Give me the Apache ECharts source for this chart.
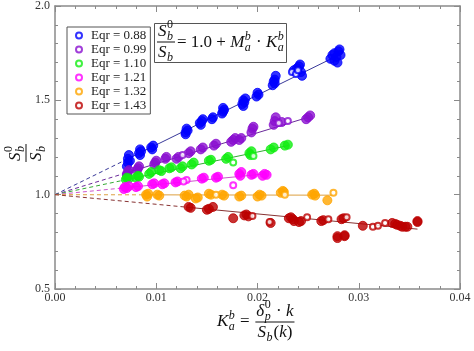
<!DOCTYPE html>
<html>
<head>
<meta charset="utf-8">
<script src="https://cdn.jsdelivr.net/npm/echarts@6/dist/echarts.min.js"></script>
<style>
  html, body { margin: 0; padding: 0; background: #fff; }
  #chart { width: 474px; height: 351px; }
</style>
</head>
<body>
<div id="chart"></div>
<script>
// legend names and colours
const names = ['Eqr = 0.88', 'Eqr = 0.99', 'Eqr = 1.10', 'Eqr = 1.21', 'Eqr = 1.32', 'Eqr = 1.43']
const colors = ['#0000ff', '#8a0fd0', '#11ee11', '#ff00ff', '#ffa500', '#bb0000']
const lineColors = ['#3a3a9a', '#6a2a9a', '#33aa33', '#cc55cc', '#dda040', '#883333']

// fitted slopes M_a^b and the K range covered by each set
const slopes = [26.4, 16.4, 11.3, 5.3, -0.1, -5.1]
const fitStart = [0.0071, 0.0071, 0.0070, 0.0068, 0.0090, 0.0132]
const fitEnd = [0.0282, 0.0252, 0.0230, 0.0209, 0.0275, 0.0358]

// filled points
const pts088 = [
    [0.0071, 1.15], [0.0072, 1.17], [0.0072, 1.19], [0.0073, 1.21], [0.0074, 1.18],
    [0.0083, 1.22], [0.0084, 1.24], [0.0085, 1.23], [0.0084, 1.21],
    [0.0095, 1.25], [0.0097, 1.26], [0.0096, 1.24],
    [0.0129, 1.33], [0.0130, 1.35], [0.0131, 1.34], [0.0129, 1.32],
    [0.0143, 1.38], [0.0145, 1.39], [0.0146, 1.40], [0.0144, 1.37],
    [0.0155, 1.40], [0.0156, 1.41],
    [0.0165, 1.43], [0.0166, 1.44], [0.0167, 1.45], [0.0166, 1.46],
    [0.0185, 1.48], [0.0186, 1.50], [0.0187, 1.49], [0.0186, 1.47], [0.0188, 1.51],
    [0.0199, 1.52], [0.0200, 1.54], [0.0201, 1.53],
    [0.0215, 1.58], [0.0216, 1.60], [0.0217, 1.61], [0.0218, 1.63], [0.0217, 1.59],
    [0.0236, 1.66], [0.0239, 1.67], [0.0241, 1.68], [0.0243, 1.65], [0.0244, 1.63], [0.0242, 1.69],
    [0.0272, 1.72], [0.0274, 1.74], [0.0276, 1.75], [0.0278, 1.73], [0.0280, 1.76],
    [0.0282, 1.74], [0.0276, 1.71], [0.0281, 1.77], [0.0279, 1.70]
]
const pts099 = [
    [0.0071, 1.11], [0.0072, 1.12], [0.0073, 1.13], [0.0071, 1.10],
    [0.0081, 1.13], [0.0082, 1.14], [0.0083, 1.15],
    [0.0098, 1.16], [0.0099, 1.17], [0.0100, 1.18],
    [0.0109, 1.19], [0.0110, 1.20],
    [0.0120, 1.19], [0.0122, 1.20],
    [0.0132, 1.22], [0.0134, 1.23],
    [0.0144, 1.24], [0.0146, 1.25],
    [0.0157, 1.26], [0.0159, 1.27],
    [0.0174, 1.28], [0.0176, 1.29], [0.0178, 1.30], [0.0182, 1.29], [0.0184, 1.30],
    [0.0194, 1.33], [0.0195, 1.35], [0.0196, 1.36],
    [0.0216, 1.37], [0.0217, 1.39], [0.0218, 1.41], [0.0224, 1.385],
    [0.0248, 1.40], [0.0250, 1.41], [0.0252, 1.42]
]
const pts110 = [
    [0.0070, 1.08], [0.0071, 1.09], [0.0073, 1.085],
    [0.0080, 1.09], [0.0082, 1.10], [0.0083, 1.095],
    [0.0093, 1.11], [0.0095, 1.12],
    [0.0103, 1.13], [0.0105, 1.125],
    [0.0113, 1.14], [0.0115, 1.145],
    [0.0124, 1.14], [0.0126, 1.15],
    [0.0135, 1.16], [0.0137, 1.17],
    [0.0152, 1.18], [0.0154, 1.185],
    [0.0169, 1.19], [0.0171, 1.20],
    [0.0192, 1.22], [0.0194, 1.23], [0.0193, 1.21],
    [0.0213, 1.24], [0.0216, 1.25],
    [0.0227, 1.26], [0.0230, 1.265]
]
const pts121 = [
    [0.0068, 1.03], [0.0069, 1.04], [0.0071, 1.035], [0.0073, 1.045],
    [0.0080, 1.04], [0.0082, 1.045],
    [0.0096, 1.055], [0.0098, 1.06],
    [0.0106, 1.055], [0.0108, 1.06],
    [0.0119, 1.065], [0.0121, 1.07],
    [0.0145, 1.085], [0.0147, 1.09],
    [0.0159, 1.09], [0.0161, 1.095],
    [0.0182, 1.11], [0.0184, 1.12], [0.0183, 1.10],
    [0.0194, 1.105], [0.0196, 1.11],
    [0.0205, 1.10], [0.0207, 1.11], [0.0209, 1.105]
]
const pts132 = [
    [0.0090, 1.0], [0.0092, 1.005], [0.0091, 0.99],
    [0.0101, 1.0], [0.0103, 0.995],
    [0.0128, 0.995], [0.0130, 0.99], [0.0132, 1.0], [0.0139, 0.98], [0.0141, 0.985],
    [0.0152, 1.005], [0.0154, 1.0],
    [0.0165, 1.0], [0.0167, 0.995],
    [0.0182, 0.99], [0.0184, 0.995],
    [0.0200, 0.99], [0.0202, 1.0], [0.0204, 0.995],
    [0.0223, 1.01], [0.0225, 1.02], [0.0226, 1.015],
    [0.0254, 1.0], [0.0256, 1.005], [0.0257, 0.995],
    [0.0269, 0.97]
]
const pts143 = [
    [0.0132, 0.935], [0.0134, 0.93],
    [0.0150, 0.92], [0.0152, 0.925], [0.0156, 0.935],
    [0.0176, 0.875],
    [0.0187, 0.89], [0.0189, 0.895], [0.0191, 0.885],
    [0.0213, 0.85],
    [0.0231, 0.875], [0.0233, 0.88], [0.0235, 0.87], [0.0236, 0.86],
    [0.0241, 0.855], [0.0243, 0.86],
    [0.0263, 0.86], [0.0265, 0.865],
    [0.0279, 0.78], [0.0279, 0.77], [0.0286, 0.78], [0.0286, 0.785],
    [0.0283, 0.87], [0.0285, 0.875],
    [0.0304, 0.835],
    [0.0333, 0.85], [0.0336, 0.845], [0.0338, 0.84], [0.0341, 0.835], [0.0343, 0.83],
    [0.0346, 0.83], [0.0348, 0.83],
    [0.0358, 0.86], [0.0358, 0.855]
]

// hollow points
const open088 = [[0.0234, 1.65], [0.0238, 1.64], [0.0240, 1.66]]
const open099 = [[0.0230, 1.39], [0.0126, 1.21], [0.0221, 1.38]]
const open110 = [[0.0176, 1.17], [0.0196, 1.205]]
const open121 = [[0.0130, 1.078], [0.0176, 1.05], [0.0127, 1.07]]
const open132 = [[0.0275, 1.01], [0.0159, 1.0], [0.0227, 1.0]]
const open143 = [[0.0195, 0.887], [0.0212, 0.855], [0.0249, 0.88], [0.0288, 0.88],
    [0.0314, 0.83], [0.0319, 0.835], [0.0326, 0.85], [0.0270, 0.87]]

const filled = [pts088, pts099, pts110, pts121, pts132, pts143]
const hollow = [open088, open099, open110, open121, open132, open143]

const xTicks = [0, 0.01, 0.02, 0.03, 0.04]
const yTicks = [0.5, 1.0, 1.5, 2.0]

const serif = '"Liberation Serif", "DejaVu Serif", serif'

// --- small helpers for the math labels ---
const measureCtx = document.createElement('canvas').getContext('2d')
const textWidth = (t, font) => { measureCtx.font = font; return measureCtx.measureText(t).width }

function mathRun(tokens, x, y, fs) {
    let cx = x
    const els = []
    tokens.forEach(tok => {
        const f = (tok.it ? 'italic ' : '') + fs + 'px ' + serif
        els.push({ type: 'text', x: cx, y: y, style: { text: tok.t, font: f, fill: '#111', verticalAlign: 'middle' } })
        cx += textWidth(tok.t, f)
        if (tok.sup || tok.sub) {
            const sfs = Math.round(fs * 0.68)
            let ws = 0
            if (tok.sup) {
                const sf = (/\d/.test(tok.sup) ? '' : 'italic ') + sfs + 'px ' + serif
                els.push({ type: 'text', x: cx + 0.5, y: y - fs * 0.38, style: { text: tok.sup, font: sf, fill: '#111', verticalAlign: 'middle' } })
                ws = Math.max(ws, textWidth(tok.sup, sf))
            }
            if (tok.sub) {
                const sf = 'italic ' + sfs + 'px ' + serif
                els.push({ type: 'text', x: cx + 0.5, y: y + fs * 0.3, style: { text: tok.sub, font: sf, fill: '#111', verticalAlign: 'middle' } })
                ws = Math.max(ws, textWidth(tok.sub, sf))
            }
            cx += ws + 1.5
        }
    })
    return { els, w: cx - x }
}

function runWidth(tokens, fs) { return mathRun(tokens, 0, 0, fs).w }

function fraction(num, den, cx, cy, fs) {
    const wn = runWidth(num, fs)
    const wd = runWidth(den, fs)
    const w = Math.max(wn, wd) + 2
    const top = mathRun(num, cx - wn / 2, cy - fs * 0.62, fs)
    const bot = mathRun(den, cx - wd / 2, cy + fs * 0.62, fs)
    return [
        ...top.els, ...bot.els,
        { type: 'line', shape: { x1: cx - w / 2, y1: cy, x2: cx + w / 2, y2: cy }, style: { stroke: '#111', lineWidth: 1 } }
    ]
}

const S0b = [{ t: 'S', it: true, sup: '0', sub: 'b' }]
const Sb = [{ t: 'S', it: true, sub: 'b' }]

// y-axis title, turned to read bottom to top
const yTitle = {
    type: 'group', x: 26, y: 153, rotation: Math.PI / 2,
    children: fraction(S0b, Sb, 0, 0, 17)
}

// formula box
const fs = 17
const boxEls = [
    { type: 'rect', shape: { x: 154.5, y: 23.5, width: 132, height: 39 }, style: { fill: '#fff', stroke: '#555', lineWidth: 1 } },
    ...fraction(S0b, Sb, 166, 42, fs)
]
let run1 = mathRun([{ t: '= 1.0 + ' }], 177, 43, fs)
let run2 = mathRun([{ t: 'M', it: true, sup: 'b', sub: 'a' }, { t: ' · ' }, { t: 'K', it: true, sup: 'b', sub: 'a' }], 177 + run1.w, 43, fs)
boxEls.push(...run1.els, ...run2.els)
const formulaBox = { type: 'group', z: 50, children: boxEls }

// x-axis title
const xl1 = mathRun([{ t: 'K', it: true, sup: 'b', sub: 'a' }, { t: ' = ' }], 217, 322, fs)
const xTitle = {
    type: 'group',
    children: [
        ...xl1.els,
        ...fraction(
            [{ t: 'δ', it: true, sup: '0', sub: 'p' }, { t: ' · ' }, { t: 'k', it: true }],
            [{ t: 'S', it: true, sub: 'b' }, { t: '(' }, { t: 'k', it: true }, { t: ')' }],
            217 + xl1.w + 21, 322, fs)
    ]
}

// --- series ---
const series = []
names.forEach((name, i) => {
    series.push({
        type: 'scatter', name: name, data: filled[i], z: 4,
        symbol: 'circle', symbolSize: 9,
        itemStyle: { color: colors[i], borderColor: colors[i], borderWidth: 1 }
    })
    series.push({
        type: 'scatter', name: name, data: hollow[i], z: 4,
        symbol: 'emptyCircle', symbolSize: 6,
        itemStyle: { color: colors[i], borderColor: colors[i], borderWidth: 2 }
    })
    const y0 = 1 + slopes[i] * fitStart[i]
    const y1 = 1 + slopes[i] * fitEnd[i]
    series.push({
        type: 'line', data: [[0, 1], [fitStart[i], y0]], z: 2, silent: true,
        symbol: 'none', lineStyle: { color: lineColors[i], width: 1, type: [4, 3] }
    })
    series.push({
        type: 'line', data: [[fitStart[i], y0], [fitEnd[i], y1]], z: 2, silent: true,
        symbol: 'none', lineStyle: { color: lineColors[i], width: 1 }
    })
})

const axisColor = '#8a8a8a'
const baseAxis = {
    axisLine: { show: true, onZero: false, lineStyle: { color: axisColor, width: 1.5 } },
    axisTick: { show: true, inside: true, length: 6, lineStyle: { color: axisColor, width: 1 } },
    minorTick: { show: true, splitNumber: 5, length: 3, lineStyle: { color: axisColor, width: 1 } },
    splitLine: { show: false },
    minorSplitLine: { show: false }
}

const option = {
    animation: false,
    backgroundColor: '#fff',
    grid: { left: 55, right: 14, top: 6, bottom: 62 },
    legend: {
        orient: 'vertical', left: 67, top: 27,
        data: names.map(n => ({ name: n, icon: 'emptyCircle' })),
        itemWidth: 6, itemHeight: 6, itemGap: 1,
        padding: [2, 4, 2, 8],
        borderColor: '#555', borderWidth: 1, backgroundColor: '#fff',
        selectedMode: false,
        textStyle: { fontFamily: serif, fontSize: 13, color: '#222', lineHeight: 13, padding: [0, 0, 0, 4] }
    },
    xAxis: [
        {
            ...baseAxis, type: 'value', position: 'bottom',
            min: xTicks[0], max: xTicks[xTicks.length - 1], interval: 0.01,
            axisLabel: { fontFamily: serif, fontSize: 12, color: '#333', margin: 3, formatter: v => v.toFixed(2) }
        },
        {
            ...baseAxis, type: 'value', position: 'top',
            min: xTicks[0], max: xTicks[xTicks.length - 1], interval: 0.01,
            axisLabel: { show: false }
        }
    ],
    yAxis: [
        {
            ...baseAxis, type: 'value', position: 'left',
            min: yTicks[0], max: yTicks[yTicks.length - 1], interval: 0.5,
            axisLabel: { fontFamily: serif, fontSize: 12, color: '#333', margin: 5, formatter: v => v.toFixed(1) }
        },
        {
            ...baseAxis, type: 'value', position: 'right',
            min: yTicks[0], max: yTicks[yTicks.length - 1], interval: 0.5,
            axisLabel: { show: false }
        }
    ],
    graphic: [yTitle, formulaBox, xTitle],
    series: series
}

const chart = echarts.init(document.getElementById('chart'), null, { renderer: 'canvas' })
chart.setOption(option)
</script>
</body>
</html>
